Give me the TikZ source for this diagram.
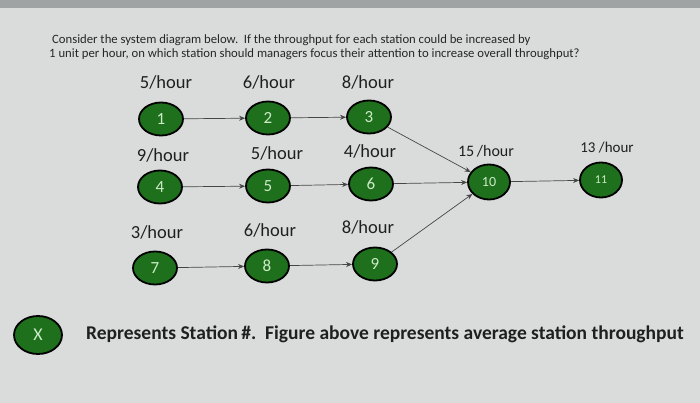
\documentclass[tikz,border=0pt]{standalone}
\usepackage{fontspec}
\setmainfont{Carlito}
\usetikzlibrary{arrows.meta,shapes.geometric}
\definecolor{bg}{RGB}{218,220,219}
\definecolor{bgtop}{RGB}{160,163,163}
\definecolor{stgreen}{RGB}{30,112,28}
\definecolor{sttext}{RGB}{205,235,200}
\definecolor{edgegray}{RGB}{70,70,70}
\tikzset{
  station/.style={ellipse, draw=black, line width=1.8pt, fill=stgreen,
    minimum width=44pt, minimum height=33pt, inner sep=0pt,
    text=sttext, font=\fontsize{17}{17}\selectfont},
  rate/.style={font=\fontsize{18.5}{18.5}\selectfont, text=black!88},
  flow/.style={draw=edgegray, line width=0.7pt, -{Stealth[length=6pt,width=5pt]}},
}
\begin{document}
\begin{tikzpicture}[x=1pt,y=-1pt]
\useasboundingbox (0,0) rectangle (700,403);
\fill[bg] (0,0) rectangle (700,403);
\fill[bgtop] (0,0) rectangle (700,8);

% question text
\node[anchor=west, font=\fontsize{12.7}{12.7}\selectfont, text=black!85, inner sep=0pt] (q1) at (52,40)
  {Consider the system diagram below.\ \ If the throughput for each station could be increased by};
\node[anchor=west, font=\fontsize{12.7}{12.7}\selectfont, text=black!85, inner sep=0pt] (q2) at (49,54)
  {1 unit per hour, on which station should managers focus their attention to increase overall throughput?};

% stations
\node[station] (s1) at (161,119) {1};
\node[station] (s2) at (268,118) {2};
\node[station] (s3) at (369,117) {3};
\node[station] (s4) at (160,187) {4};
\node[station] (s5) at (268,186) {5};
\node[station] (s6) at (371,184) {6};
\node[station] (s7) at (155,268) {7};
\node[station] (s8) at (267,266) {8};
\node[station] (s9) at (375,264) {9};
\node[station, minimum width=42pt, minimum height=35pt, font=\fontsize{14}{14}\selectfont] (s10) at (489,182) {10};
\node[station, minimum width=42pt, minimum height=35pt, font=\fontsize{12}{12}\selectfont] (s11) at (601,180) {11};

% rates
\node[rate] (r1) at (166,82) {5/hour};
\node[rate] (r2) at (269,82) {6/hour};
\node[rate] (r3) at (368,82) {8/hour};
\node[rate] (r4) at (163,155) {9/hour};
\node[rate] (r5) at (277,153) {5/hour};
\node[rate] (r6) at (370,151) {4/hour};
\node[rate, font=\fontsize{16}{16}\selectfont] (r10) at (486,151) {15\,/hour};
\node[rate, font=\fontsize{15}{15}\selectfont] (r11) at (607,148) {13 /hour};
\node[rate] (r7) at (157,232) {3/hour};
\node[rate] (r8) at (270,230) {6/hour};
\node[rate] (r9) at (368,227) {8/hour};

% flows
\draw[flow] (s1) -- (s2);
\draw[flow] (s2) -- (s3);
\draw[flow] (s4) -- (s5);
\draw[flow] (s5) -- (s6);
\draw[flow] (s7) -- (s8);
\draw[flow] (s8) -- (s9);
\draw[flow] (s3) -- (s10);
\draw[flow] (s6) -- (s10);
\draw[flow] (s9) -- (s10);
\draw[flow] (s10) -- (s11);

% legend
\node[station, minimum width=48pt, minimum height=38pt, font=\fontsize{18}{18}\selectfont] (lx) at (38,335) {X};
\node[anchor=west, font=\bfseries\fontsize{19.5}{19.5}\selectfont, text=black!88, inner sep=0pt] (lt) at (86,334)
  {Represents Station\,\#.\ \ Figure above represents average station throughput};
\end{tikzpicture}
\end{document}
